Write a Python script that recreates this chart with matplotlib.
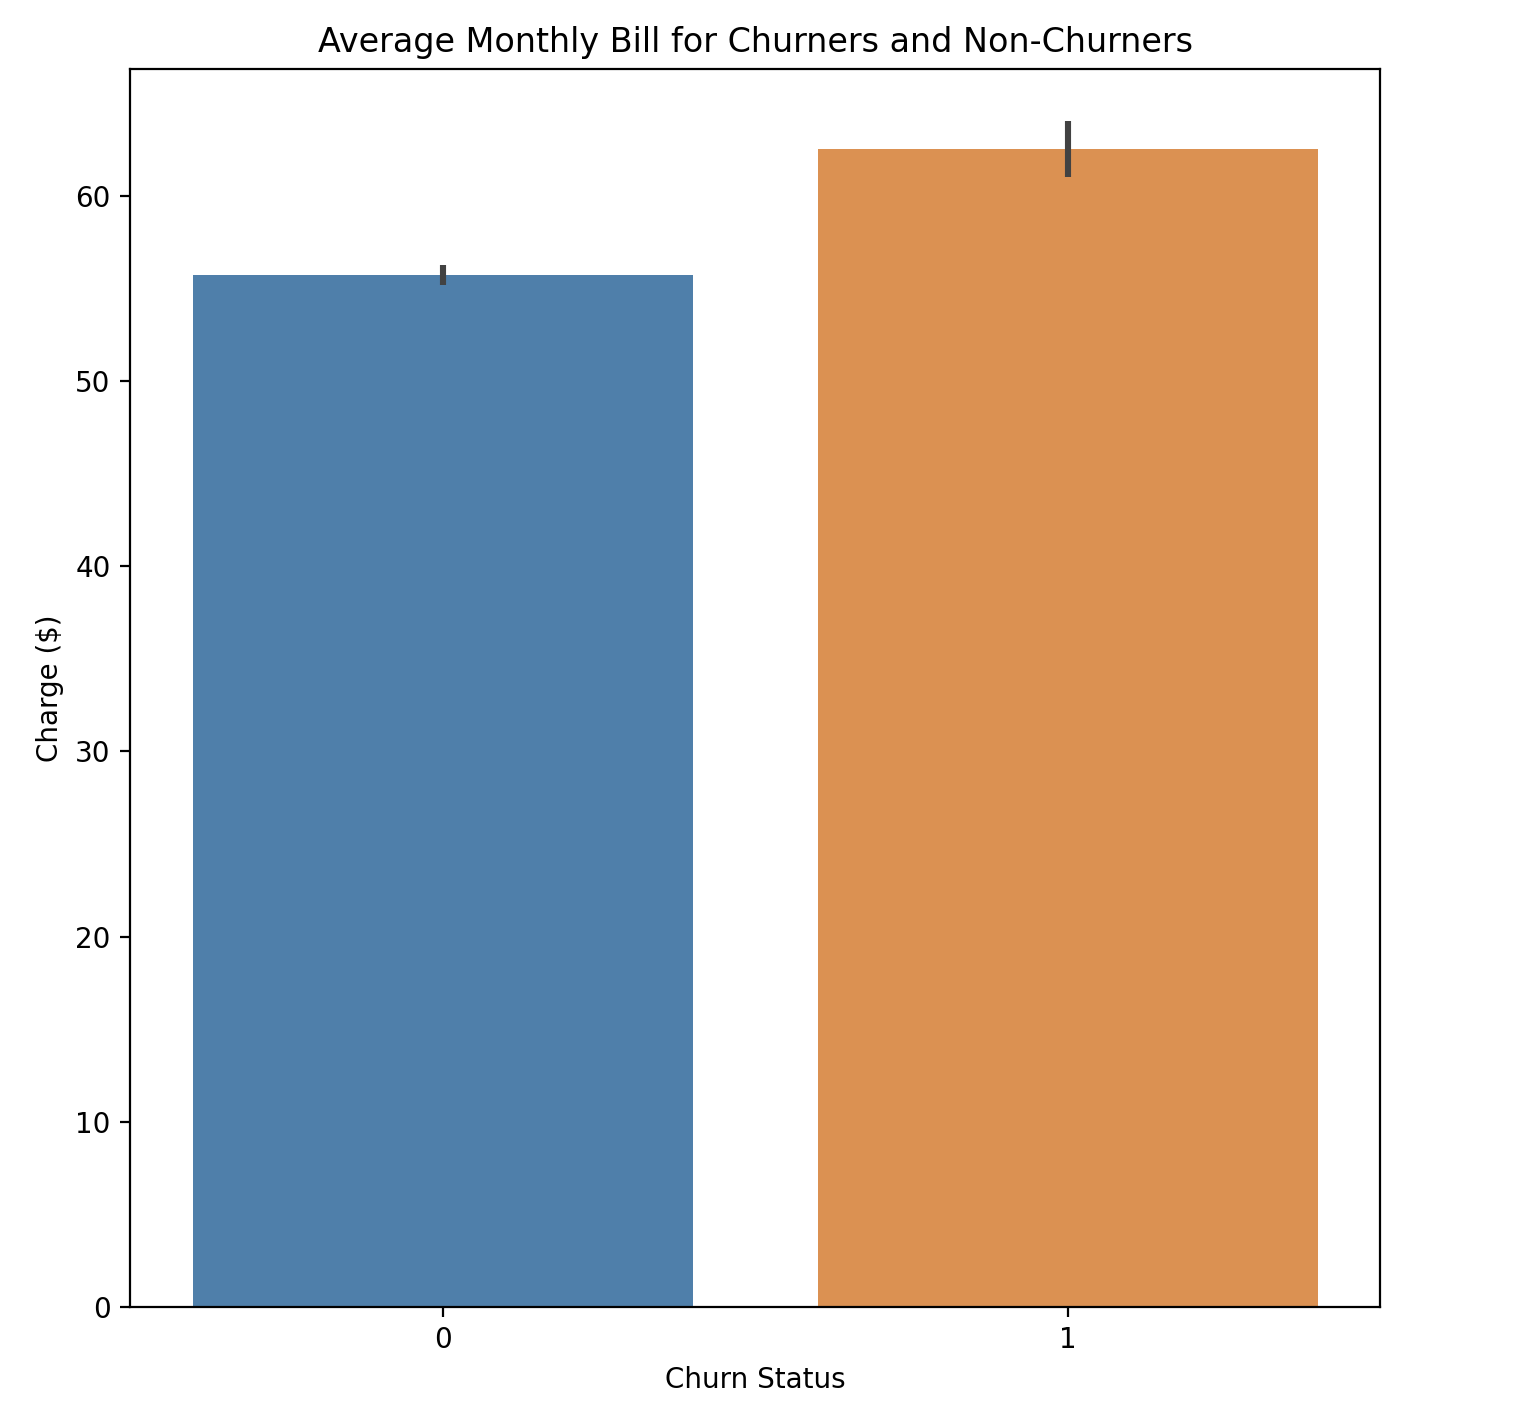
import matplotlib
matplotlib.use("Agg")
import matplotlib.pyplot as plt

categories = ["0", "1"]
means = [55.74, 62.54]
ci_low = [55.2, 61.03]
ci_high = [56.28, 64.05]
colors = ["#4f7faa", "#db9152"]

fig = plt.figure(figsize=(7.65, 7.14), dpi=200)
ax = fig.add_axes([0.085, 0.0847, 0.817, 0.8673])
x = list(range(len(categories)))
ax.bar(x, means, width=0.8, color=colors)
ax.vlines(x, ci_low, ci_high, color="#424242", linewidth=2.2)
ax.set_xticks(x)
ax.set_xticklabels(categories)
ax.set_xlim(-0.5, 1.5)
ax.set_ylim(0, 66.86)
ax.set_xlabel("Churn Status")
ax.set_ylabel("Charge ($)")
ax.set_title("Average Monthly Bill for Churners and Non-Churners", fontsize=12)
fig.savefig("out.png", dpi=200)
